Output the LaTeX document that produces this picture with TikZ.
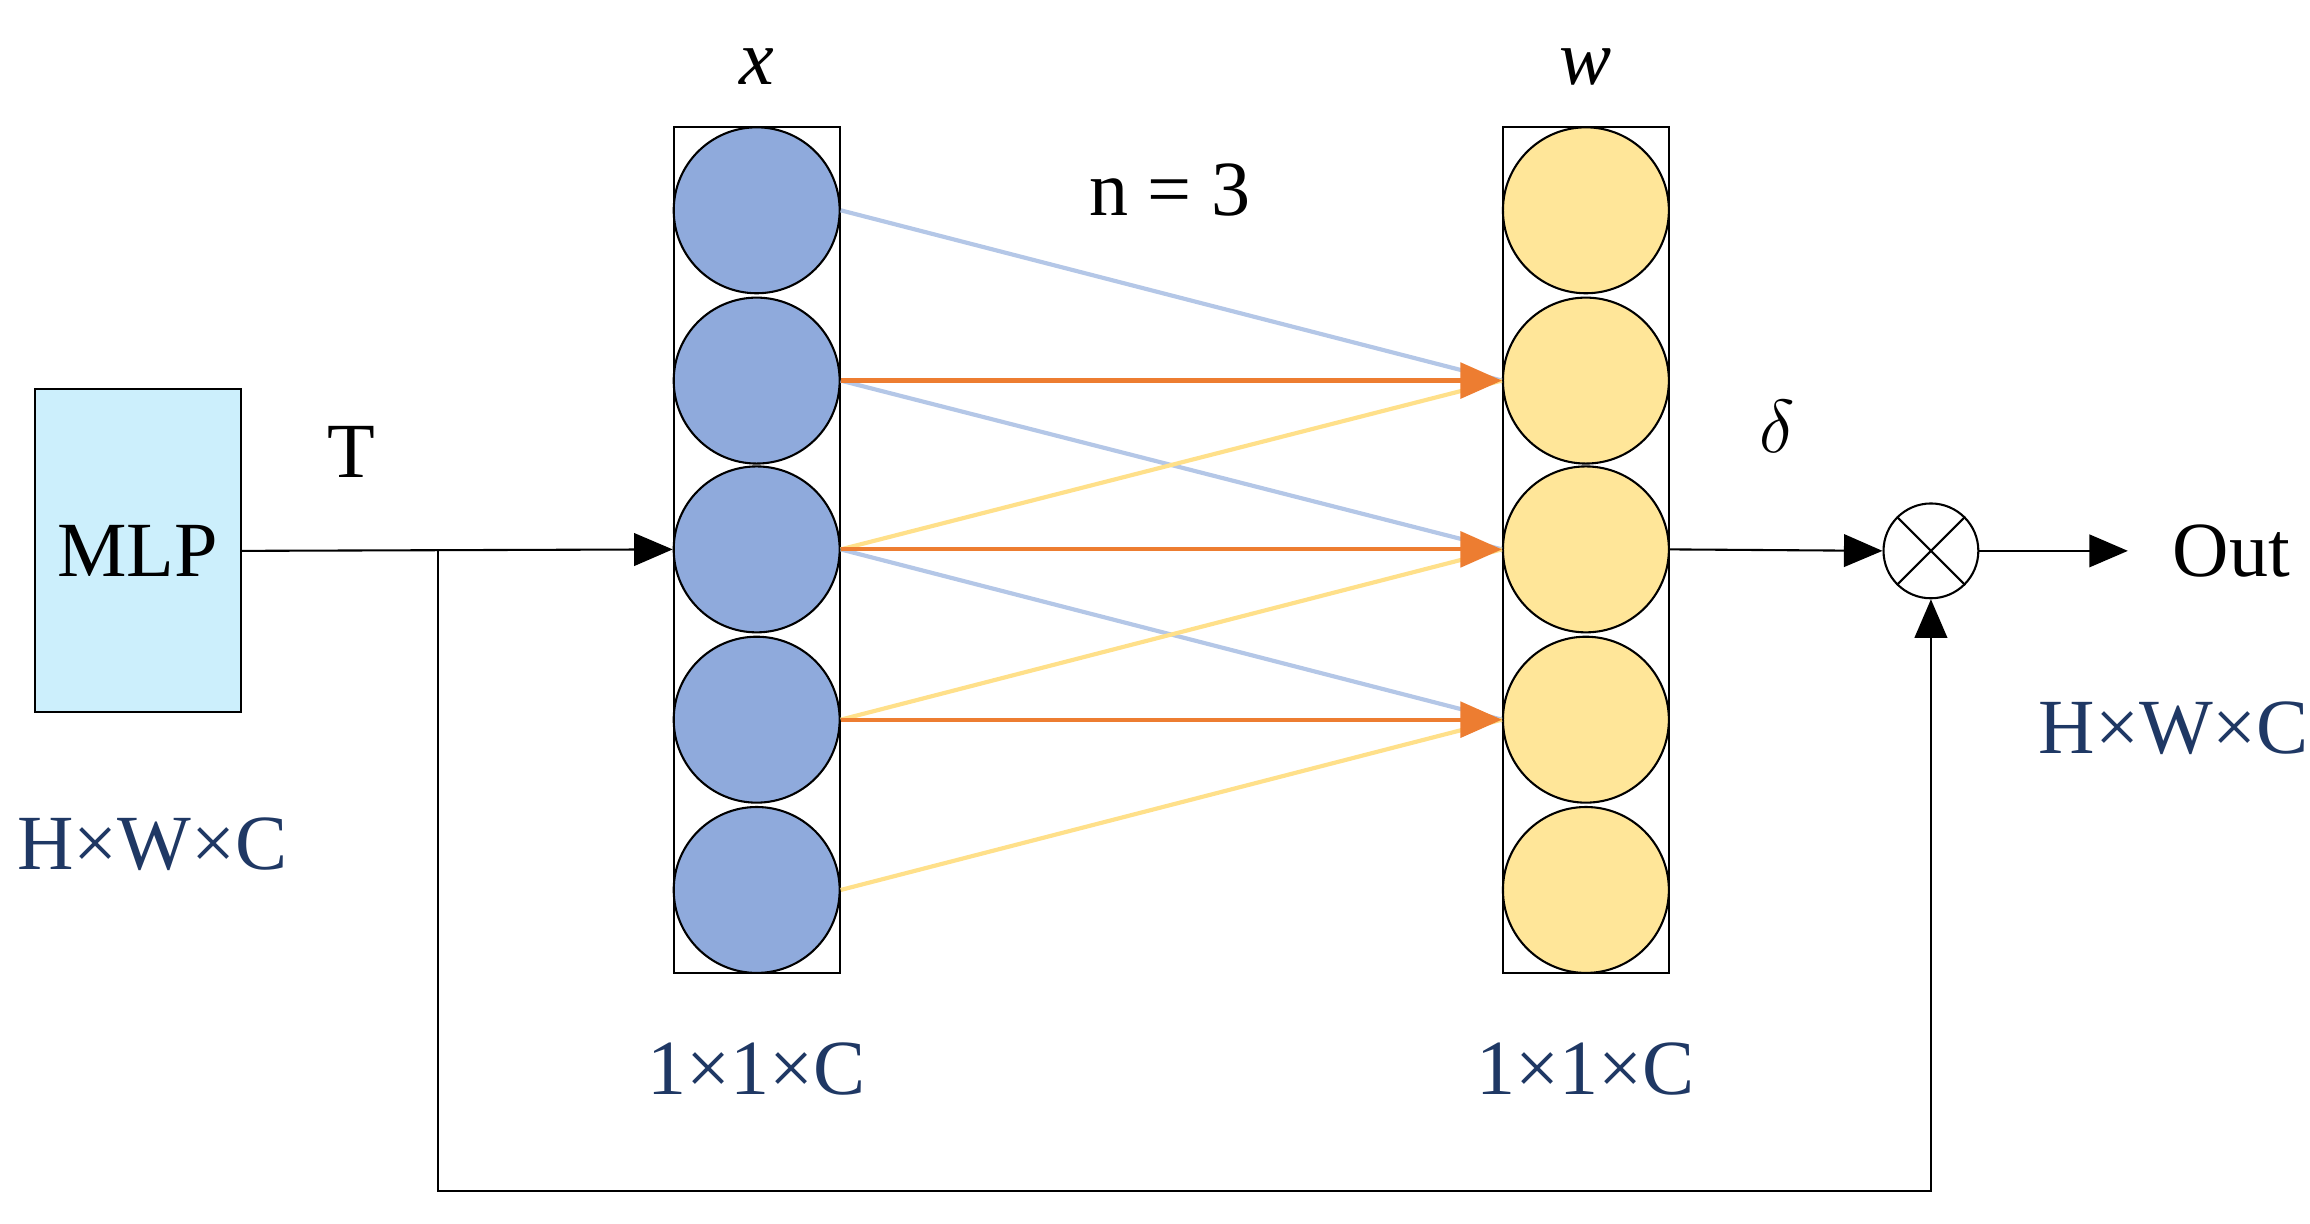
\documentclass[tikz,border=0pt]{standalone}
\usepackage{fontspec}
\setmainfont{Liberation Serif}
\usetikzlibrary{arrows.meta}
\definecolor{dblue}{HTML}{1F3864}
\definecolor{cblue}{HTML}{8FAADC}
\definecolor{cyel}{HTML}{FFE699}
\definecolor{lblue}{HTML}{B4C7E7}
\definecolor{lyel}{HTML}{FFE08A}
\definecolor{orng}{HTML}{ED7D31}
\begin{document}
\begin{tikzpicture}[x=0.01cm,y=-0.01cm,
  txt/.style={font=\fontsize{15}{17}\selectfont},
  dim/.style={font=\fontsize{15}{17}\selectfont,text=dblue},
  bc/.style={circle,draw,fill=cblue,minimum size=1.12cm,inner sep=0},
  yc/.style={circle,draw,fill=cyel,minimum size=1.12cm,inner sep=0},
  arr/.style={-{Triangle[length=0.26cm,width=0.22cm]}},
  oarr/.style={draw=orng,thick,-{Triangle[length=0.28cm,width=0.24cm]}}]
\useasboundingbox (0,0) rectangle (1560,826);
\node[draw,fill=cyan!20,minimum width=1.39cm,minimum height=2.18cm,txt] (mlp) at (93,372) {MLP};
\node[txt] at (237,305) {T};
\node[draw,minimum width=1.12cm,minimum height=5.71cm] (lc) at (511,371.5) {};
\node[draw,minimum width=1.12cm,minimum height=5.71cm] (rc) at (1071,371.5) {};
\foreach \i/\y in {1/142,2/257,3/371,4/486,5/601}{
  \node[bc] (a\i) at (511,\y) {};
  \node[yc] (b\i) at (1071,\y) {};
}
\node[txt] at (511,45) {\itshape x};
\node[txt] at (1071,45) {\itshape w};
\node[txt] at (790,128) {n = 3};
\node[txt] at (1200,288) {$\delta$};
\node[dim] at (103,570) {H×W×C};
\node[dim] at (1468,492) {H×W×C};
\node[dim] at (511,722) {1×1×C};
\node[dim] at (1071,722) {1×1×C};
% connections
\foreach \s/\t in {1/2,2/3,3/4}{\draw[lblue,thick] (a\s.east) -- (b\t.west);}
\foreach \s/\t in {3/2,4/3,5/4}{\draw[lyel,thick] (a\s.east) -- (b\t.west);}
\foreach \s in {2,3,4}{\draw[oarr] (a\s.east) -- (b\s.west);}
% main flow
\coordinate (br) at (296,372);
\draw[arr] (mlp.east) -- (a3.west);
\node[circle,draw,minimum size=0.64cm,inner sep=0] (ot) at (1304,372) {};
\draw (ot.north east) -- (ot.south west) (ot.north west) -- (ot.south east);
\draw[arr] (b3.east) -- (ot.west);
\coordinate (out) at (1437,372);
\draw[arr] (ot.east) -- (out);
\node[txt,anchor=west] at (1455,372) {Out};
\draw[arr] (br) -- (296,804) -- (1304,804) -- (ot.south);
\end{tikzpicture}
\end{document}
